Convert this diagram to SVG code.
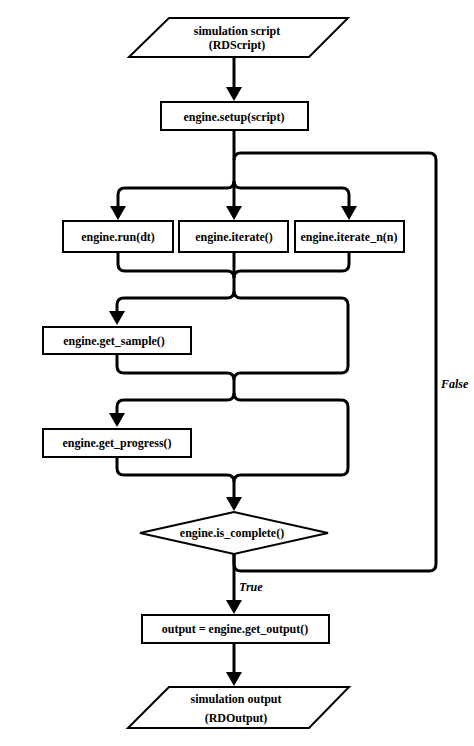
<svg xmlns="http://www.w3.org/2000/svg" width="474" height="746" viewBox="0 0 474 746">
<style>
.node{fill:#fff;stroke:#000;stroke-width:2}
.t{font-family:"Liberation Serif","Times New Roman",serif;font-weight:bold;font-size:12px;text-anchor:middle;fill:#000}
.lbl{font-family:"Liberation Serif","Times New Roman",serif;font-weight:bold;font-style:italic;font-size:12px;fill:#000}
.c{fill:none;stroke:#000;stroke-width:3}
</style>
<defs>
<marker id="ah" markerUnits="userSpaceOnUse" markerWidth="15" markerHeight="16" viewBox="0 0 14 16" refX="11" refY="8" orient="auto">
<path d="M0,0 L14,8 L0,16 z" fill="#000"/>
</marker>
</defs>
<rect width="474" height="746" fill="#fff"/>
<g id="connectors">
<path class="c" d="M234,57 V98" marker-end="url(#ah)"/>
<path class="c" d="M234,130 V217" marker-end="url(#ah)"/>
<path class="c" d="M234,181 Q234,188 227,188 H125 Q118,188 118,195 V217" marker-end="url(#ah)"/>
<path class="c" d="M234,181 Q234,188 241,188 H342 Q349,188 349,195 V217" marker-end="url(#ah)"/>
<path class="c" d="M234,554 V564 Q234,571 241,571 H429 Q436,571 436,564 V160 Q436,153 429,153 H241 Q234,153 234,160"/>
<path class="c" d="M118,252 V264 Q118,271 125,271 H227 Q234,271 234,278"/>
<path class="c" d="M349,252 V264 Q349,271 342,271 H241 Q234,271 234,278"/>
<path class="c" d="M234,252 V291"/>
<path class="c" d="M234,291 Q234,298 227,298 H124 Q117,298 117,305 V322" marker-end="url(#ah)"/>
<path class="c" d="M234,291 Q234,298 241,298 H341 Q348,298 348,305 V366 Q348,373 341,373 H241 Q234,373 234,380"/>
<path class="c" d="M117,354 V366 Q117,373 124,373 H227 Q234,373 234,380 V393"/>
<path class="c" d="M234,393 Q234,400 227,400 H124 Q117,400 117,407 V424" marker-end="url(#ah)"/>
<path class="c" d="M234,393 Q234,400 241,400 H341 Q348,400 348,407 V468 Q348,475 341,475 H241 Q234,475 234,482"/>
<path class="c" d="M117,457 V468 Q117,475 124,475 H227 Q234,475 234,482 V508" marker-end="url(#ah)"/>
<path class="c" d="M234,554 V611" marker-end="url(#ah)"/>
<path class="c" d="M234,643 V683" marker-end="url(#ah)"/>
<text class="lbl" x="239" y="591">True</text>
<text class="lbl" x="441" y="388">False</text>
</g>
<g id="input">
<polygon class="node" points="169,18 348,18 309,57 129,57"/>
<text class="t" x="237" y="35">simulation script</text>
<text class="t" x="237" y="49">(RDScript)</text>
</g>
<g id="setup">
<rect class="node" x="161" y="102" width="147" height="28"/>
<text class="t" x="234" y="121">engine.setup(script)</text>
</g>
<g id="run">
<rect class="node" x="63" y="221" width="110" height="31"/>
<text class="t" x="118" y="241">engine.run(dt)</text>
</g>
<g id="iterate">
<rect class="node" x="179" y="221" width="109" height="31"/>
<text class="t" x="234" y="241">engine.iterate()</text>
</g>
<g id="iterate_n">
<rect class="node" x="295" y="221" width="109" height="31"/>
<text class="t" x="349" y="241">engine.iterate_n(n)</text>
</g>
<g id="get_sample">
<rect class="node" x="43" y="327" width="148" height="27"/>
<text class="t" x="114" y="345">engine.get_sample()</text>
</g>
<g id="get_progress">
<rect class="node" x="43" y="429" width="148" height="28"/>
<text class="t" x="117" y="447">engine.get_progress()</text>
</g>
<g id="is_complete">
<polygon class="node" points="234,512 328,533 234,554 140,533"/>
<text class="t" x="232" y="537">engine.is_complete()</text>
</g>
<g id="get_output">
<rect class="node" x="142" y="615" width="187" height="28"/>
<text class="t" x="235" y="633">output = engine.get_output()</text>
</g>
<g id="output">
<polygon class="node" points="169,687 349,687 309,728 128,728"/>
<text class="t" x="236" y="703">simulation output</text>
<text class="t" x="236" y="722">(RDOutput)</text>
</g>
</svg>
